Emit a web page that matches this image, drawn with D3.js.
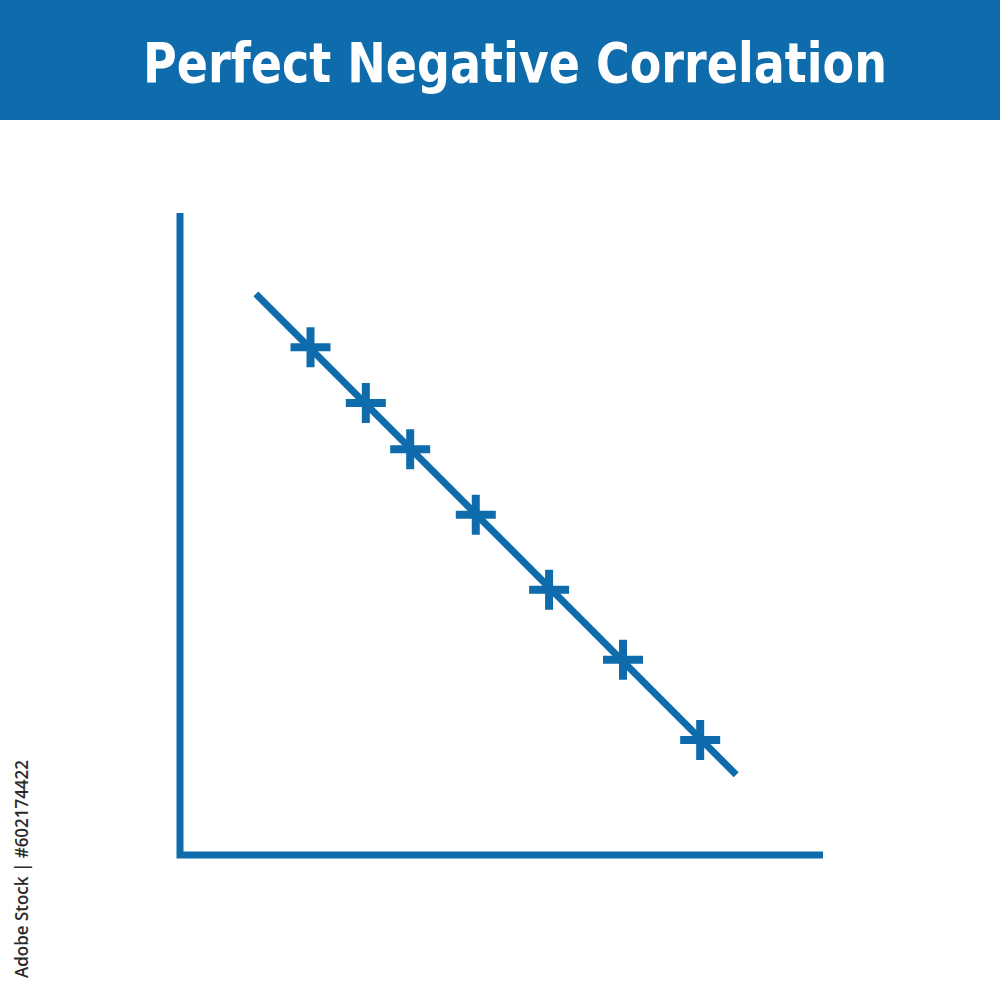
<!DOCTYPE html>
<html>
<head>
<meta charset="utf-8">
<script src="https://cdn.jsdelivr.net/npm/d3@7"></script>
<style>
  html, body { margin: 0; padding: 0; background: #fff; }
  svg { display: block; }
</style>
</head>
<body>
<svg id="chart" width="1000" height="995"></svg>
<script>
const title = "Perfect Negative Correlation";
const credit = "Adobe Stock | #602174422";
// data points (x, y) in abstract units 0..10
const pointX = [2.03, 2.89, 3.58, 4.60, 5.74, 6.89, 8.09];
const pointY = [7.91, 7.04, 6.32, 5.30, 4.13, 3.04, 1.79];
// trend line endpoints
const lineX = [1.18, 8.65];
const lineY = [8.74, 1.25];

const blue = "#0e6cad";
const svg = d3.select("#chart");

// header
svg.append("rect").attr("x", 0).attr("y", 0).attr("width", 1000).attr("height", 120).attr("fill", blue);
svg.append("text")
  .attr("x", 515).attr("y", 82)
  .attr("text-anchor", "middle")
  .attr("fill", "#fff")
  .attr("font-family", "'DejaVu Sans Condensed', 'DejaVu Sans', sans-serif")
  .attr("font-weight", "bold")
  .attr("font-size", 56)
  .attr("textLength", 744)
  .attr("lengthAdjust", "spacingAndGlyphs")
  .text(title);

const x = d3.scaleLinear().domain([0, 10]).range([180, 823]);
const y = d3.scaleLinear().domain([0, 10]).range([855, 213]);

// axes (L-shape)
svg.append("path")
  .attr("d", `M${x(0)},${y(10)} V${y(0)} H${x(10)}`)
  .attr("fill", "none")
  .attr("stroke", blue)
  .attr("stroke-width", 7)
  .attr("stroke-linejoin", "miter");

// trend line
const lineData = lineX.map((v, i) => [v, lineY[i]]);
svg.append("path")
  .datum(lineData)
  .attr("d", d3.line().x(d => x(d[0])).y(d => y(d[1])))
  .attr("fill", "none")
  .attr("stroke", blue)
  .attr("stroke-width", 7);

// plus markers
const pts = pointX.map((v, i) => [v, pointY[i]]);
const arm = 20;
const g = svg.append("g");
g.selectAll("path.plus")
  .data(pts)
  .enter().append("path")
  .attr("class", "plus")
  .attr("d", d => {
    const cx = x(d[0]), cy = y(d[1]);
    return `M${cx - arm},${cy} H${cx + arm} M${cx},${cy - arm} V${cy + arm}`;
  })
  .attr("fill", "none")
  .attr("stroke", blue)
  .attr("stroke-width", 8);

// credit text (vertical)
svg.append("text")
  .attr("transform", "translate(28,869) rotate(-90)")
  .attr("text-anchor", "middle")
  .attr("fill", "#2b2b2b")
  .attr("font-family", "'Open Sans', 'DejaVu Sans', sans-serif")
  .attr("font-weight", 600)
  .attr("font-size", 18)
  .attr("textLength", 218)
  .attr("lengthAdjust", "spacingAndGlyphs")
  .text(credit);
</script>
</body>
</html>
